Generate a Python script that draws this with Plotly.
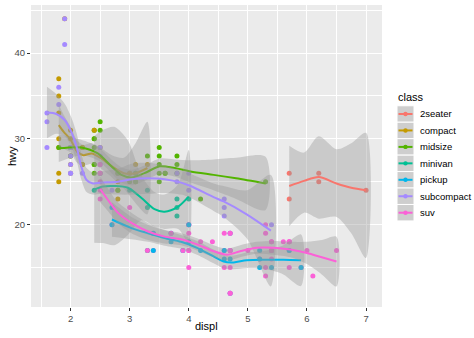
import plotly.graph_objects as go

# ---------------- data ----------------
classes = ["2seater", "compact", "midsize", "minivan", "pickup", "subcompact", "suv"]
class_colors = ["#F8766D", "#C49A00", "#53B400", "#00C094", "#00B6EB", "#A58AFF", "#FB61D7"]

# scatter points (displ, hwy) per class
pts_2seater_x = [5.7, 5.7, 6.2, 6.2, 7.0]
pts_2seater_y = [26, 23, 26, 25, 24]

pts_compact_x = [1.8, 2.0, 2.0, 2.8, 3.1, 1.8, 1.8, 2.0, 2.0, 2.8, 3.1, 3.3,
                 1.8, 1.8, 1.8, 1.8, 2.0, 2.0, 2.8, 1.9, 2.5, 2.8]
pts_compact_y = [29, 31, 30, 26, 27, 26, 25, 28, 27, 25, 25, 27,
                 30, 33, 35, 37, 29, 26, 23, 44, 29, 24]
# compact points that sit on top of midsize points
pts_compact_top_x = [2.2, 2.2, 2.4, 3.0]
pts_compact_top_y = [27, 29, 31, 26]

pts_midsize_x = [2.8, 3.1, 4.2, 2.4, 2.4, 3.1, 3.5, 3.6, 2.4, 2.4, 2.4, 2.4, 2.5, 3.3,
                 2.4, 2.5, 2.5, 3.5, 3.5, 3.0, 3.0, 3.5, 3.1, 3.8, 3.8, 3.8, 5.3,
                 2.2, 2.2, 3.5, 1.8, 2.0, 2.0, 2.8, 3.6]
pts_midsize_y = [24, 25, 23, 27, 30, 26, 29, 26, 26, 27, 30, 31, 26, 28,
                 29, 31, 32, 27, 26, 26, 25, 25, 26, 26, 27, 28, 25,
                 29, 27, 28, 29, 28, 29, 26, 26]

pts_minivan_x = [2.4, 3.0, 3.3, 3.3, 3.3, 3.8, 3.8, 3.8, 4.0]
pts_minivan_y = [24, 24, 22, 24, 17, 22, 21, 23, 23]

pts_subcompact_x = [1.6, 1.6, 1.6, 1.8, 1.8, 2.0, 3.8, 3.8, 4.0, 4.0, 4.6, 4.6, 4.6, 5.4,
                    2.0, 2.0, 2.0, 2.7, 2.2, 2.5, 2.5, 1.9, 2.0, 2.0, 2.5, 2.5, 1.9]
pts_subcompact_y = [33, 32, 29, 34, 36, 29, 26, 25, 26, 24, 21, 22, 23, 20,
                    26, 28, 27, 24, 26, 26, 27, 44, 29, 26, 28, 29, 41]

# pickup points hidden under suv points
pts_pickup_x = [3.7, 3.9, 4.7, 4.7, 4.7, 5.4]
pts_pickup_y = [19, 17, 19, 12, 17, 17]
# pickup points drawn above suv points
pts_pickup_top_x = [3.7, 5.2, 5.2, 4.7, 5.2, 5.7, 5.9, 4.2, 4.6, 4.6, 5.4,
                    2.7, 2.7, 3.4, 3.4, 4.0, 4.0]
pts_pickup_top_y = [18, 17, 15, 16, 16, 17, 15, 17, 16, 17, 15,
                    20, 22, 17, 19, 18, 20]

pts_suv_x = [5.3, 5.3, 5.7, 6.0, 5.3, 5.3, 5.7, 6.5, 3.9, 4.7, 4.7, 5.2, 5.7, 5.9,
             4.6, 5.4, 5.4, 4.0, 4.0, 4.6, 5.0, 3.0, 3.7, 4.0, 4.0, 4.7, 4.7, 4.7,
             5.7, 6.1, 4.0, 4.2, 4.4, 4.6, 5.4, 5.4, 5.4, 3.3, 4.0, 5.6,
             2.5, 2.5, 2.5, 2.5, 2.5, 2.7, 3.4, 3.4, 4.0, 4.7, 4.7, 5.7]
pts_suv_y = [20, 15, 17, 17, 19, 14, 15, 17, 17, 17, 12, 16, 18, 15,
             17, 17, 18, 17, 19, 19, 17, 22, 19, 20, 17, 17, 19, 12,
             18, 14, 15, 18, 18, 15, 17, 16, 18, 17, 20, 18,
             25, 24, 27, 26, 23, 20, 19, 17, 20, 19, 15, 18]

# smoothed curves with their confidence band
fit_2seater_x = [5.7, 5.95, 6.2, 6.5, 6.75, 7.0]
fit_2seater_y = [24.5, 25.1, 25.55, 24.8, 24.3, 24.0]
fit_2seater_hi = [29.2, 28.4, 30.3, 28.8, 29.5, 30.7]
fit_2seater_lo = [19.8, 21.4, 20.7, 20.9, 19.0, 16.1]

fit_compact_x = [1.8, 1.88, 2.0, 2.11, 2.22, 2.36, 2.5, 2.7, 2.9, 3.1, 3.3]
fit_compact_y = [31.6, 30.85, 29.9, 28.5, 28.1, 28.3, 27.8, 26.8, 26.0, 26.0, 26.6]
fit_compact_hi = [34.0, 32.85, 31.4, 29.8, 29.3, 29.5, 29.0, 28.1, 27.8, 29.5, 32.0]
fit_compact_lo = [29.2, 28.85, 28.4, 27.2, 26.9, 27.1, 26.6, 25.5, 24.2, 22.5, 21.2]

fit_midsize_x = [1.8, 2.18, 2.46, 2.69, 2.86, 3.03, 3.25, 3.51, 3.76, 4.03, 4.42, 4.8, 5.3]
fit_midsize_y = [28.9, 29.0, 28.3, 26.8, 25.8, 25.5, 26.0, 26.8, 26.6, 26.2, 25.8, 25.4, 24.8]
fit_midsize_hi = [30.5, 29.9, 29.1, 27.6, 26.7, 26.4, 26.9, 27.7, 27.6, 27.5, 27.6, 27.8, 27.9]
fit_midsize_lo = [27.3, 28.1, 27.5, 26.0, 24.9, 24.6, 25.1, 25.9, 25.6, 24.9, 24.0, 23.0, 21.7]

fit_minivan_x = [2.4, 2.55, 2.74, 2.97, 3.2, 3.42, 3.59, 3.82, 4.0]
fit_minivan_y = [24.1, 24.45, 24.5, 24.3, 23.1, 21.8, 21.5, 22.1, 23.3]
fit_minivan_hi = [30.3, 31.05, 31.4, 29.8, 25.7, 23.8, 23.5, 24.7, 28.7]
fit_minivan_lo = [17.9, 17.85, 17.6, 18.8, 20.5, 19.8, 19.5, 19.5, 17.9]

fit_pickup_x = [2.7, 3.03, 3.31, 3.59, 3.87, 4.14, 4.42, 4.59, 4.76, 4.98, 5.32, 5.6, 5.9]
fit_pickup_y = [20.6, 19.6, 19.0, 18.45, 18.0, 17.3, 16.3, 15.7, 15.6, 15.85, 15.9, 15.9, 15.85]
fit_pickup_hi = [22.6, 20.9, 20.0, 19.35, 18.8, 18.1, 17.1, 16.5, 16.4, 16.75, 17.0, 17.6, 18.85]
fit_pickup_lo = [18.6, 18.3, 18.0, 17.55, 17.2, 16.5, 15.5, 14.9, 14.8, 14.95, 14.8, 14.2, 12.85]

fit_subcompact_x = [1.6, 1.76, 1.9, 2.01, 2.1, 2.18, 2.27, 2.38, 2.52, 2.8, 3.03, 3.31,
                    3.59, 3.87, 4.03, 4.42, 4.59, 4.98, 5.39]
fit_subcompact_y = [33.06, 32.9, 32.2, 30.85, 29.1, 26.8, 25.2, 24.8, 24.9, 25.0, 25.3, 25.4,
                    25.3, 24.9, 24.5, 23.2, 22.7, 21.2, 19.3]
fit_subcompact_hi = [36.06, 35.2, 34.1, 32.55, 30.7, 28.3, 26.6, 26.1, 26.2, 26.5, 27.1, 27.2,
                     26.9, 26.3, 25.9, 24.8, 24.5, 24.0, 25.8]
fit_subcompact_lo = [30.06, 30.6, 30.3, 29.15, 27.5, 25.3, 23.8, 23.5, 23.6, 23.5, 23.5, 23.6,
                     23.7, 23.5, 23.1, 21.6, 20.9, 18.4, 12.8]

fit_suv_x = [2.5, 2.63, 2.8, 3.03, 3.31, 3.59, 3.87, 4.14, 4.42, 4.65, 4.87, 5.15, 5.43,
             5.72, 6.0, 6.25, 6.5]
fit_suv_y = [24.15, 22.9, 21.4, 20.2, 19.2, 18.6, 18.3, 17.7, 16.9, 16.5, 16.9, 17.3, 17.3,
             17.1, 16.7, 16.2, 15.7]
fit_suv_hi = [25.65, 24.2, 22.6, 21.4, 20.2, 19.4, 19.0, 18.4, 17.6, 17.2, 17.6, 18.0, 18.1,
              18.0, 18.0, 18.2, 18.6]
fit_suv_lo = [22.65, 21.6, 20.2, 19.0, 18.2, 17.8, 17.6, 17.0, 16.2, 15.8, 16.2, 16.6, 16.5,
              16.2, 15.4, 14.2, 12.8]

x_ticks = [2, 3, 4, 5, 6, 7]
y_ticks = [20, 30, 40]

# ---------------- figure ----------------
col = dict(zip(classes, class_colors))
fig = go.Figure()

point_layers = [
    ("2seater", pts_2seater_x, pts_2seater_y),
    ("compact", pts_compact_x, pts_compact_y),
    ("midsize", pts_midsize_x, pts_midsize_y),
    ("compact", pts_compact_top_x, pts_compact_top_y),
    ("minivan", pts_minivan_x, pts_minivan_y),
    ("subcompact", pts_subcompact_x, pts_subcompact_y),
    ("pickup", pts_pickup_x, pts_pickup_y),
    ("suv", pts_suv_x, pts_suv_y),
    ("pickup", pts_pickup_top_x, pts_pickup_top_y),
]
for cls, xs, ys in point_layers:
    fig.add_trace(go.Scatter(x=xs, y=ys, mode="markers",
                             marker=dict(color=col[cls], size=5, line=dict(width=0)),
                             showlegend=False, hoverinfo="skip"))

fits = [
    ("2seater", fit_2seater_x, fit_2seater_y, fit_2seater_lo, fit_2seater_hi),
    ("compact", fit_compact_x, fit_compact_y, fit_compact_lo, fit_compact_hi),
    ("midsize", fit_midsize_x, fit_midsize_y, fit_midsize_lo, fit_midsize_hi),
    ("minivan", fit_minivan_x, fit_minivan_y, fit_minivan_lo, fit_minivan_hi),
    ("pickup", fit_pickup_x, fit_pickup_y, fit_pickup_lo, fit_pickup_hi),
    ("subcompact", fit_subcompact_x, fit_subcompact_y, fit_subcompact_lo, fit_subcompact_hi),
    ("suv", fit_suv_x, fit_suv_y, fit_suv_lo, fit_suv_hi),
]
for cls, xs, ys, lo, hi in fits:
    fig.add_trace(go.Scatter(x=xs + xs[::-1], y=hi + lo[::-1], mode="lines",
                             fill="toself", fillcolor="rgba(153,153,153,0.4)",
                             line=dict(width=0, shape="spline", smoothing=0.8),
                             showlegend=False, hoverinfo="skip"))
    fig.add_trace(go.Scatter(x=xs, y=ys, mode="lines",
                             line=dict(color=col[cls], width=2, shape="spline", smoothing=0.8),
                             showlegend=False, hoverinfo="skip"))

# geometry of the plot area in pixels
W, H = 474, 338
L, R, T, B = 31, 382, 5, 307


def px(xp):
    return (xp - L) / (R - L)


def py(yp):
    return (B - yp) / (B - T)


shapes = []
annotations = []

# manual ggplot-style legend
annotations.append(dict(x=px(396), y=py(97), xref="paper", yref="paper", text="class",
                        showarrow=False, xanchor="left", yanchor="middle",
                        font=dict(size=11, color="#000000")))
row0, step = 114.0, 16.45
for i, cls in enumerate(classes):
    cy = row0 + i * step
    shapes.append(dict(type="rect", xref="paper", yref="paper",
                       x0=px(397), x1=px(414), y0=py(cy - step / 2), y1=py(cy + step / 2),
                       fillcolor="#CECECE", line=dict(color="white", width=1)))
    shapes.append(dict(type="line", xref="paper", yref="paper",
                       x0=px(398.5), x1=px(412.5), y0=py(cy), y1=py(cy),
                       line=dict(color=col[cls], width=2)))
    shapes.append(dict(type="circle", xref="paper", yref="paper",
                       x0=px(403.3), x1=px(407.7), y0=py(cy + 2.2), y1=py(cy - 2.2),
                       fillcolor=col[cls], line=dict(width=0)))
    annotations.append(dict(x=px(417.5), y=py(cy), xref="paper", yref="paper", text=cls,
                            showarrow=False, xanchor="left", yanchor="middle",
                            font=dict(size=9.5, color="#000000")))

# axis titles
annotations.append(dict(x=0.5, y=py(326), xref="paper", yref="paper", text="displ",
                        showarrow=False, xanchor="center", yanchor="middle",
                        font=dict(size=11, color="#000000")))
annotations.append(dict(x=px(12), y=py(156), xref="paper", yref="paper", text="hwy",
                        showarrow=False, xanchor="center", yanchor="middle", textangle=-90,
                        font=dict(size=11, color="#000000")))

axis_common = dict(showgrid=True, gridcolor="#FFFFFF", gridwidth=1.1, zeroline=False,
                   showline=False, ticks="outside", ticklen=3, tickwidth=1,
                   tickcolor="#333333", tickfont=dict(size=9.5, color="#4D4D4D"))

fig.update_layout(
    width=W, height=H,
    margin=dict(l=L, r=W - R, t=T, b=H - B, pad=0),
    paper_bgcolor="#FFFFFF", plot_bgcolor="#EBEBEB",
    font=dict(family="Liberation Sans, Arial, sans-serif"),
    xaxis=dict(range=[1.33, 7.27], tickvals=x_ticks, ticktext=[str(v) for v in x_ticks],
               minor=dict(tickvals=[1.5, 2.5, 3.5, 4.5, 5.5, 6.5], showgrid=True,
                          gridcolor="#FFFFFF", gridwidth=0.5, ticks=""),
               **axis_common),
    yaxis=dict(range=[10.4, 45.6], tickvals=y_ticks, ticktext=[str(v) for v in y_ticks],
               minor=dict(tickvals=[15, 25, 35, 45], showgrid=True,
                          gridcolor="#FFFFFF", gridwidth=0.5, ticks=""),
               **axis_common),
    shapes=shapes, annotations=annotations, showlegend=False,
)

fig.write_html("out.html")
